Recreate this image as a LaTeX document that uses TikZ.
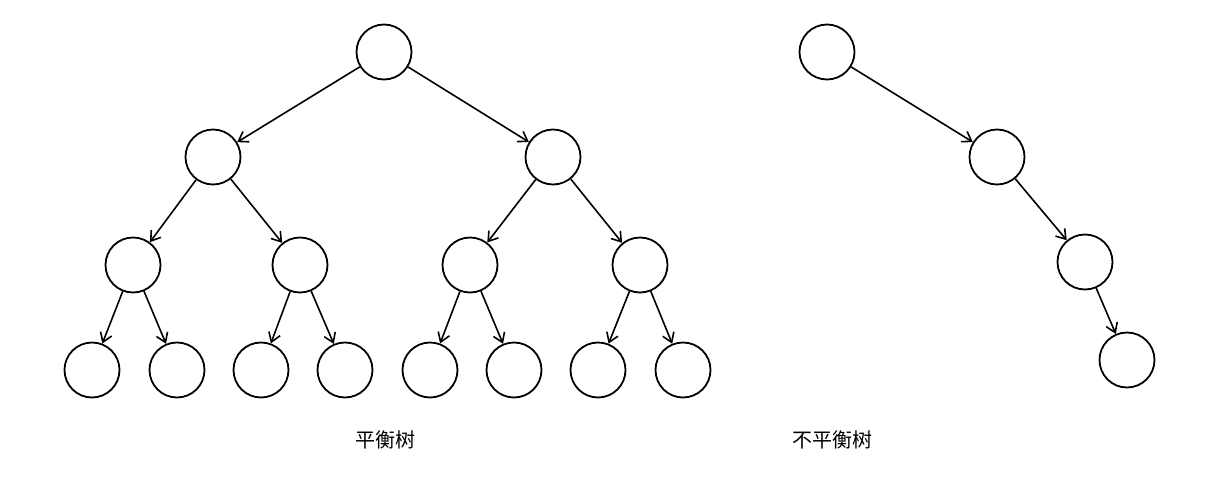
\documentclass[tikz,border=0pt]{standalone}
\usepackage{fontspec}
\newfontfamily\cjk{Noto Sans CJK SC}
\usetikzlibrary{arrows.meta}
\begin{document}
\begin{tikzpicture}[x=1pt,y=-1pt,
  tn/.style={circle,draw,line width=1.8pt,minimum size=55pt,inner sep=0pt},
  ed/.style={line width=1.6pt,-{Straight Barb[length=9pt,width=12pt,line width=1.6pt]}},
  lb/.style={font=\cjk\fontsize{20}{24}\selectfont}]
\useasboundingbox (0,0) rectangle (1219,482);
\node[tn] (r) at (384,52) {};
\node[tn] (a) at (213,157) {};
\node[tn] (b) at (553,157) {};
\node[tn] (c1) at (133,265) {};
\node[tn] (c2) at (300,265) {};
\node[tn] (c3) at (470,265) {};
\node[tn] (c4) at (640,265) {};
\foreach \i/\x in {1/92,2/177,3/261,4/345,5/430,6/514,7/598,8/683}
  \node[tn] (d\i) at (\x,370) {};
\draw[ed] (r) -- (a); \draw[ed] (r) -- (b);
\draw[ed] (a) -- (c1); \draw[ed] (a) -- (c2);
\draw[ed] (b) -- (c3); \draw[ed] (b) -- (c4);
\draw[ed] (c1) -- (d1); \draw[ed] (c1) -- (d2);
\draw[ed] (c2) -- (d3); \draw[ed] (c2) -- (d4);
\draw[ed] (c3) -- (d5); \draw[ed] (c3) -- (d6);
\draw[ed] (c4) -- (d7); \draw[ed] (c4) -- (d8);
\node[tn] (u1) at (827,52) {};
\node[tn] (u2) at (997,157) {};
\node[tn] (u3) at (1085,262) {};
\node[tn] (u4) at (1127,360) {};
\draw[ed] (u1) -- (u2); \draw[ed] (u2) -- (u3); \draw[ed] (u3) -- (u4);
\node[lb] (t1) at (385,440) {平衡树};
\node[lb] (t2) at (832,440) {不平衡树};
\end{tikzpicture}
\end{document}
